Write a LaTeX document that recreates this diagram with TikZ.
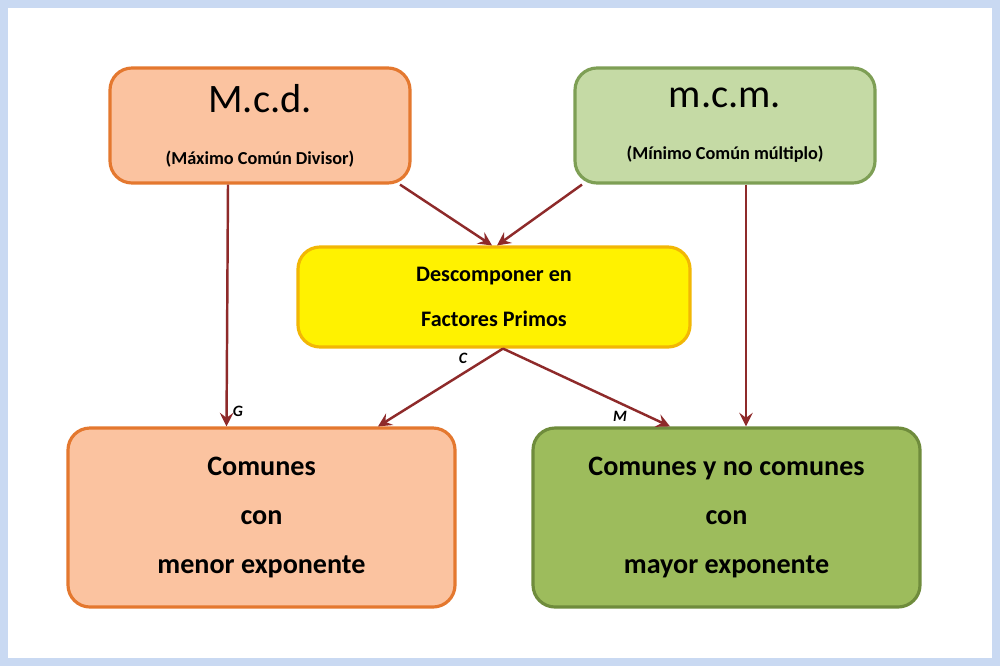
\documentclass[tikz,border=0pt]{standalone}
\usepackage{fontspec}
\setmainfont{Carlito}
\usetikzlibrary{positioning}
\definecolor{peach}{HTML}{FBC3A0}
\definecolor{peachline}{HTML}{E4782F}
\definecolor{lgreen}{HTML}{C5DAA5}
\definecolor{lgreenline}{HTML}{7E9F55}
\definecolor{dgreen}{HTML}{9DBC5C}
\definecolor{dgreenline}{HTML}{6F8C3C}
\definecolor{gold}{HTML}{F2B705}
\definecolor{arrowred}{HTML}{8E2A2A}
\definecolor{frameblue}{HTML}{C9D9F2}
\tikzset{
  box/.style={draw, line width=0.9pt, rounded corners=2.2mm, align=center},
  arr/.style={->, >=stealth, draw=arrowred, line width=0.7pt},
  tag/.style={font={\fontsize{4.5pt}{5pt}\selectfont\bfseries\itshape}}}
\begin{document}
\begin{tikzpicture}
  \fill[white] (0,0) rectangle (10,6.66);
  \draw[frameblue, line width=2.2pt] (0.04,0.04) rectangle (9.96,6.62);
  % upper boxes
  \node (mcd) [box, fill=peach, draw=peachline, minimum width=3cm, minimum height=1.15cm] at (2.6,5.405)
    {{\fontsize{11.5pt}{13pt}\selectfont M.c.d.}\\[1mm]{\fontsize{5.2pt}{6pt}\selectfont\bfseries (Máximo Común Divisor)}};
  \node (mcm) [box, fill=lgreen, draw=lgreenline, minimum width=3cm, minimum height=1.15cm] at (7.25,5.405)
    {{\fontsize{11.5pt}{13pt}\selectfont m.c.m.}\\[1mm]{\fontsize{5.2pt}{6pt}\selectfont\bfseries (Mínimo Común múltiplo)}};
  % middle box
  \node (fp) [box, fill=yellow, draw=gold, minimum width=3.92cm, minimum height=1cm,
    font={\fontsize{6.3pt}{13pt}\selectfont\bfseries}] at (4.94,3.69)
    {Descomponer en\\Factores Primos};
  % lower boxes
  \node (men) [box, fill=peach, draw=peachline, minimum width=3.87cm, minimum height=1.79cm,
    font={\fontsize{8pt}{14pt}\selectfont\bfseries}] at (2.615,1.485)
    {Comunes\\con\\menor exponente};
  \node (may) [box, fill=dgreen, draw=dgreenline, minimum width=3.87cm, minimum height=1.79cm,
    font={\fontsize{8pt}{14pt}\selectfont\bfseries}] at (7.265,1.485)
    {Comunes y no comunes\\con\\mayor exponente};
  % connectors
  \draw[arr] ([xshift=-0.32cm]mcd.south) -- ([xshift=-0.335cm]men.north -| mcd.south);
  \draw[arr] ([xshift=1.4cm]mcd.south) -- ([xshift=-0.02cm]fp.north);
  \draw[arr] ([xshift=-1.43cm]mcm.south) -- ([xshift=0.03cm]fp.north);
  \draw[arr] ([xshift=0.21cm]mcm.south) -- ([xshift=0.21cm]may.north -| mcm.south);
  \draw[arr] ([xshift=0.09cm]fp.south) -- ([xshift=1.165cm]men.north);
  \draw[arr] ([xshift=0.09cm]fp.south) -- ([xshift=-0.565cm]may.north);
  % tags
  \node (tg) [tag] at (2.38,2.55) {G};
  \node (tc) [tag] at (4.63,3.08) {C};
  \node (tm) [tag] at (6.2,2.5) {M};
\end{tikzpicture}
\end{document}
